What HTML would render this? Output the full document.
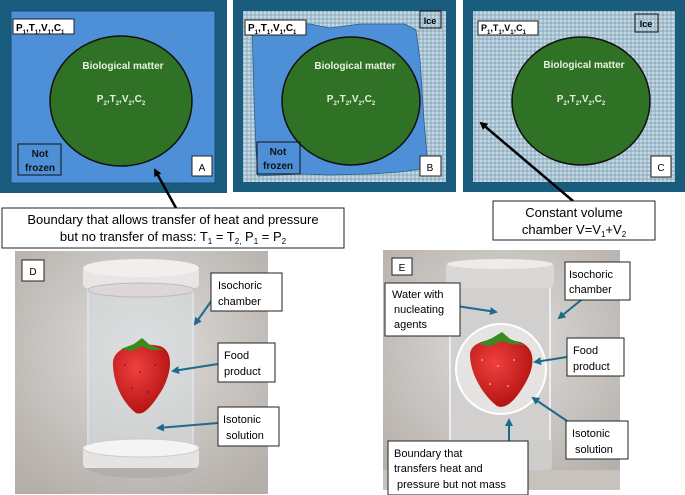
<!DOCTYPE html>
<html><head><meta charset="utf-8"><style>
body{margin:0;background:#fff;}
svg{display:block;font-family:"Liberation Sans",sans-serif;}
.lb{fill:#fff;stroke:#222;stroke-width:1;}
</style></head><body>
<svg width="685" height="495" viewBox="0 0 685 495">
<defs>
<pattern id="ice" width="4" height="4" patternUnits="userSpaceOnUse">
<rect width="4" height="4" fill="#a9c2d2"/><circle cx="1" cy="1" r="0.9" fill="#dce8ef"/><circle cx="3" cy="3" r="0.8" fill="#7f9fb5"/>
</pattern>
<marker id="ak" markerWidth="8" markerHeight="8" refX="6" refY="4" orient="auto" markerUnits="userSpaceOnUse"><path d="M0,0 L8,4 L0,8 z" fill="#000"/></marker>
<marker id="ab" markerWidth="8" markerHeight="8" refX="6" refY="4" orient="auto" markerUnits="userSpaceOnUse"><path d="M0,0 L8,4 L0,8 z" fill="#1e6a8e"/></marker>
<radialGradient id="bg" cx="50%" cy="40%" r="70%"><stop offset="0" stop-color="#e0dedc"/><stop offset="1" stop-color="#b5afaa"/></radialGradient>
<radialGradient id="sb" cx="40%" cy="35%" r="70%"><stop offset="0" stop-color="#f04040"/><stop offset="1" stop-color="#b01010"/></radialGradient>
</defs>

<!-- Panel A -->
<rect x="0" y="0" width="227" height="193" fill="#195c7d"/>
<rect x="11" y="11" width="204" height="172" fill="#4d90d8" stroke="#1a4f6a" stroke-width="1"/>
<ellipse cx="121" cy="101" rx="71" ry="65" fill="#2f7226" stroke="#111" stroke-width="1.5"/>
<text x="123" y="69" font-size="10" font-weight="bold" fill="#e8f0e0" text-anchor="middle">Biological matter</text>
<text x="121" y="102" font-size="10" font-weight="bold" fill="#e8f0e0" text-anchor="middle">P<tspan font-size="6" dy="3">2</tspan><tspan dy="-3">,T</tspan><tspan font-size="6" dy="3">2</tspan><tspan dy="-3">,V</tspan><tspan font-size="6" dy="3">2</tspan><tspan dy="-3">,C</tspan><tspan font-size="6" dy="3">2</tspan></text>
<rect x="13" y="19" width="61" height="15" class="lb"/>
<text x="16" y="31" font-size="10" font-weight="bold">P<tspan font-size="6" dy="3">1</tspan><tspan dy="-3">,T</tspan><tspan font-size="6" dy="3">1</tspan><tspan dy="-3">,V</tspan><tspan font-size="6" dy="3">1</tspan><tspan dy="-3">,C</tspan><tspan font-size="6" dy="3">1</tspan></text>
<rect x="18" y="144" width="43" height="31" fill="none" stroke="#111"/>
<text x="40" y="157" font-size="10" font-weight="bold" text-anchor="middle" fill="#111">Not</text>
<text x="40" y="171" font-size="10" font-weight="bold" text-anchor="middle" fill="#111">frozen</text>
<rect x="192" y="156" width="20" height="20" class="lb"/>
<text x="202" y="171" font-size="10" text-anchor="middle">A</text>

<!-- Panel B -->
<rect x="233" y="0" width="223" height="192" fill="#195c7d"/>
<rect x="243" y="11" width="203" height="171" fill="url(#ice)"/>
<path d="M252,22 L310,24 L330,28 L360,24 L405,24 L416,30 L420,60 L424,120 L428,168 L400,172 L370,174 L330,175 L300,174 L258,176 L256,150 L254,100 Z" fill="#4d90d8" stroke="#2a5f8a" stroke-width="0.8"/>
<ellipse cx="351" cy="101" rx="69" ry="64" fill="#2f7226" stroke="#111" stroke-width="1.5"/>
<text x="355" y="69" font-size="10" font-weight="bold" fill="#e8f0e0" text-anchor="middle">Biological matter</text>
<text x="351" y="102" font-size="10" font-weight="bold" fill="#e8f0e0" text-anchor="middle">P<tspan font-size="6" dy="3">2</tspan><tspan dy="-3">,T</tspan><tspan font-size="6" dy="3">2</tspan><tspan dy="-3">,V</tspan><tspan font-size="6" dy="3">2</tspan><tspan dy="-3">,C</tspan><tspan font-size="6" dy="3">2</tspan></text>
<rect x="245" y="20" width="61" height="15" class="lb"/>
<text x="248" y="31" font-size="10" font-weight="bold">P<tspan font-size="6" dy="3">1</tspan><tspan dy="-3">,T</tspan><tspan font-size="6" dy="3">1</tspan><tspan dy="-3">,V</tspan><tspan font-size="6" dy="3">1</tspan><tspan dy="-3">,C</tspan><tspan font-size="6" dy="3">1</tspan></text>
<rect x="257" y="142" width="43" height="32" fill="none" stroke="#111"/>
<text x="278" y="155" font-size="10" font-weight="bold" text-anchor="middle" fill="#111">Not</text>
<text x="278" y="169" font-size="10" font-weight="bold" text-anchor="middle" fill="#111">frozen</text>
<rect x="420" y="11" width="21" height="17" fill="none" stroke="#111"/>
<text x="430" y="24" font-size="9" font-weight="bold" text-anchor="middle">Ice</text>
<rect x="420" y="156" width="21" height="20" class="lb"/>
<text x="430" y="171" font-size="10" text-anchor="middle">B</text>

<!-- Panel C -->
<rect x="463" y="0" width="222" height="192" fill="#195c7d"/>
<rect x="473" y="11" width="202" height="171" fill="url(#ice)"/>
<ellipse cx="581" cy="101" rx="69" ry="64" fill="#2f7226" stroke="#111" stroke-width="1.5"/>
<text x="584" y="68" font-size="10" font-weight="bold" fill="#e8f0e0" text-anchor="middle">Biological matter</text>
<text x="581" y="102" font-size="10" font-weight="bold" fill="#e8f0e0" text-anchor="middle">P<tspan font-size="6" dy="3">2</tspan><tspan dy="-3">,T</tspan><tspan font-size="6" dy="3">2</tspan><tspan dy="-3">,V</tspan><tspan font-size="6" dy="3">2</tspan><tspan dy="-3">,C</tspan><tspan font-size="6" dy="3">2</tspan></text>
<rect x="478" y="21" width="60" height="14" class="lb"/>
<text x="481" y="31" font-size="9" font-weight="bold">P<tspan font-size="6" dy="3">1</tspan><tspan dy="-3">,T</tspan><tspan font-size="6" dy="3">1</tspan><tspan dy="-3">,V</tspan><tspan font-size="6" dy="3">1</tspan><tspan dy="-3">,C</tspan><tspan font-size="6" dy="3">1</tspan></text>
<rect x="635" y="14" width="23" height="18" fill="none" stroke="#111"/>
<text x="646" y="27" font-size="9" font-weight="bold" text-anchor="middle">Ice</text>
<rect x="651" y="156" width="20" height="21" class="lb"/>
<text x="661" y="171" font-size="10" text-anchor="middle">C</text>

<!-- connectors top -->
<line x1="176" y1="208" x2="155" y2="170" stroke="#000" stroke-width="2.5" marker-end="url(#ak)"/>
<rect x="2" y="208" width="342" height="40" class="lb" stroke-width="1.5"/>
<text x="173" y="224" font-size="13" text-anchor="middle">Boundary that allows transfer of heat and pressure</text>
<text x="173" y="241" font-size="13" text-anchor="middle">but no transfer of mass: T<tspan font-size="8" dy="3">1</tspan><tspan dy="-3"> = T</tspan><tspan font-size="8" dy="3">2,</tspan><tspan dy="-3"> P</tspan><tspan font-size="8" dy="3">1</tspan><tspan dy="-3"> = P</tspan><tspan font-size="8" dy="3">2</tspan></text>
<line x1="573" y1="201" x2="481" y2="123" stroke="#000" stroke-width="2.5" marker-end="url(#ak)"/>
<rect x="493" y="201" width="162" height="39" class="lb" stroke-width="1.5"/>
<text x="574" y="217" font-size="13" text-anchor="middle">Constant volume</text>
<text x="574" y="234" font-size="13" text-anchor="middle">chamber V=V<tspan font-size="8" dy="3">1</tspan><tspan dy="-3">+V</tspan><tspan font-size="8" dy="3">2</tspan></text>

<!-- Image D -->
<rect x="15" y="251" width="253" height="243" fill="url(#bg)"/>
<ellipse cx="141" cy="466" rx="56" ry="12" fill="#a8a29e" opacity="0.5"/>
<rect x="88" y="288" width="105" height="160" fill="#d8dee2" opacity="0.55" stroke="#eef" stroke-width="2"/>
<rect x="83" y="448" width="116" height="20" rx="4" fill="#e6e4e2"/>
<ellipse cx="141" cy="448" rx="58" ry="9" fill="#f4f4f4" stroke="#ccc"/>
<rect x="83" y="268" width="116" height="20" rx="4" fill="#e8e6e4"/>
<ellipse cx="141" cy="268" rx="58" ry="9" fill="#f0efee"/>
<ellipse cx="141" cy="290" rx="53" ry="7" fill="#ddd6d8" stroke="#bbb"/>
<path d="M113,366 C111,345 140,342 160,346 C174,351 172,372 162,390 C152,406 144,416 136,413 C124,404 114,386 113,366 Z" fill="url(#sb)"/>
<path d="M121,349 L134,344 L142,338 L150,345 L163,350 L150,350 L142,346 L132,351 Z" fill="#3a8a22"/>
<g fill="#5a0a0a" opacity="0.5"><circle cx="125" cy="365" r="1"/><circle cx="140" cy="372" r="1"/><circle cx="155" cy="365" r="1"/><circle cx="132" cy="388" r="1"/><circle cx="148" cy="392" r="1"/></g>
<rect x="22" y="260" width="22" height="21" class="lb"/>
<text x="33" y="275" font-size="10" text-anchor="middle">D</text>
<line x1="212" y1="300" x2="195" y2="324" stroke="#1e6a8e" stroke-width="2" marker-end="url(#ab)"/>
<rect x="211" y="273" width="71" height="38" class="lb"/>
<text x="218" y="289" font-size="11">Isochoric</text>
<text x="218" y="305" font-size="11">chamber</text>
<line x1="218" y1="364" x2="173" y2="371" stroke="#1e6a8e" stroke-width="2" marker-end="url(#ab)"/>
<rect x="218" y="343" width="57" height="39" class="lb"/>
<text x="224" y="359" font-size="11">Food</text>
<text x="224" y="375" font-size="11">product</text>
<line x1="218" y1="423" x2="158" y2="428" stroke="#1e6a8e" stroke-width="2" marker-end="url(#ab)"/>
<rect x="218" y="407" width="61" height="39" class="lb"/>
<text x="223" y="423" font-size="11">Isotonic</text>
<text x="226" y="439" font-size="11">solution</text>

<!-- Image E -->
<rect x="383" y="250" width="237" height="240" fill="url(#bg)"/>
<rect x="383" y="470" width="237" height="20" fill="#c8c2bd"/>
<rect x="450" y="284" width="100" height="160" fill="#d2d0ce" stroke="#eee" stroke-width="2"/>
<rect x="446" y="262" width="108" height="26" rx="6" fill="#dad8d6"/>
<ellipse cx="500" cy="264" rx="53" ry="5" fill="#eeeceb"/>
<rect x="448" y="440" width="104" height="30" rx="3" fill="#cfcdcb"/>
<circle cx="501" cy="369" r="45" fill="#e6e4e2" stroke="#fff" stroke-width="2"/>
<path d="M470,356 C469,340 495,336 520,342 C536,348 535,366 526,382 C516,400 506,410 497,406 C484,396 471,376 470,356 Z" fill="url(#sb)"/>
<path d="M478,344 L492,338 L502,332 L510,339 L525,345 L510,344 L502,341 L490,346 Z" fill="#3a8a22"/>
<g fill="#f0d070" opacity="0.7"><circle cx="482" cy="360" r="1"/><circle cx="498" cy="366" r="1"/><circle cx="514" cy="360" r="1"/><circle cx="490" cy="384" r="1"/><circle cx="508" cy="386" r="1"/></g>
<rect x="392" y="258" width="20" height="17" class="lb"/>
<text x="402" y="271" font-size="10" text-anchor="middle">E</text>
<line x1="591" y1="292" x2="559" y2="318" stroke="#1e6a8e" stroke-width="2" marker-end="url(#ab)"/>
<rect x="565" y="262" width="65" height="38" class="lb"/>
<text x="569" y="278" font-size="11">Isochoric</text>
<text x="569" y="293" font-size="11">chamber</text>
<line x1="450" y1="305" x2="496" y2="312" stroke="#1e6a8e" stroke-width="2" marker-end="url(#ab)"/>
<rect x="385" y="283" width="75" height="53" class="lb"/>
<text x="392" y="298" font-size="11">Water with</text>
<text x="394" y="313" font-size="11">nucleating</text>
<text x="394" y="328" font-size="11">agents</text>
<line x1="567" y1="357" x2="535" y2="362" stroke="#1e6a8e" stroke-width="2" marker-end="url(#ab)"/>
<rect x="567" y="338" width="57" height="38" class="lb"/>
<text x="573" y="354" font-size="11">Food</text>
<text x="573" y="370" font-size="11">product</text>
<line x1="567" y1="421" x2="533" y2="398" stroke="#1e6a8e" stroke-width="2" marker-end="url(#ab)"/>
<rect x="566" y="421" width="62" height="38" class="lb"/>
<text x="572" y="437" font-size="11">Isotonic</text>
<text x="575" y="453" font-size="11">solution</text>
<line x1="509" y1="441" x2="509" y2="420" stroke="#1e6a8e" stroke-width="2" marker-end="url(#ab)"/>
<rect x="388" y="441" width="140" height="54" class="lb"/>
<text x="394" y="457" font-size="11">Boundary that</text>
<text x="394" y="472" font-size="11">transfers heat and</text>
<text x="397" y="488" font-size="11">pressure but not mass</text>
</svg>
</body></html>
